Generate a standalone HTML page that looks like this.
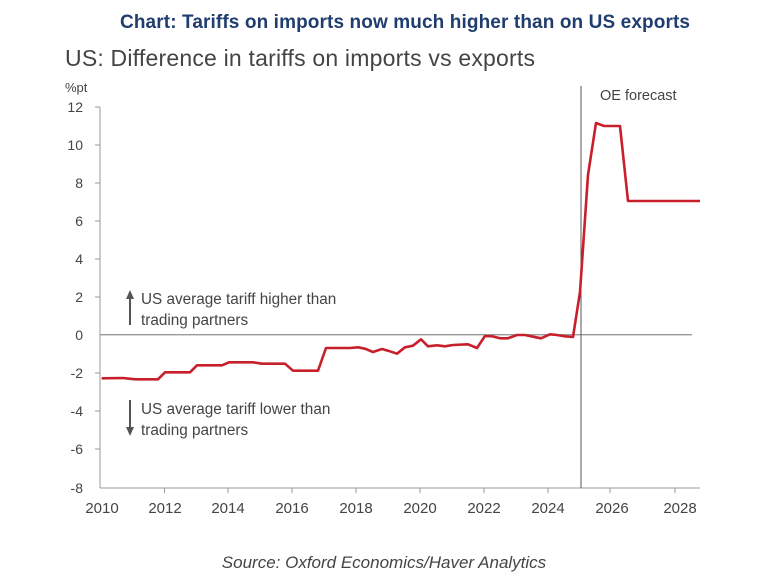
<!DOCTYPE html>
<html><head><meta charset="utf-8"><style>
body{margin:0;background:#fff;width:768px;height:583px;overflow:hidden;font-family:"Liberation Sans",sans-serif}
</style></head><body>
<svg width="768" height="583" xmlns="http://www.w3.org/2000/svg" font-family="Liberation Sans, sans-serif">
<text x="405" y="28" text-anchor="middle" font-size="19" font-weight="bold" fill="#1f3d6e" textLength="570">Chart: Tariffs on imports now much higher than on US exports</text>
<text x="65" y="66" font-size="23" fill="#444" textLength="470">US: Difference in tariffs on imports vs exports</text>
<text x="65" y="92" font-size="13" fill="#444">%pt</text>
<line x1="100" y1="107" x2="100" y2="488" stroke="#999" stroke-width="1"/>
<line x1="100" y1="488" x2="700" y2="488" stroke="#999" stroke-width="1"/>
<line x1="100" y1="334.7" x2="692" y2="334.7" stroke="#999" stroke-width="1.3"/>
<line x1="581" y1="86" x2="581" y2="488" stroke="#555" stroke-width="1"/>
<text x="600" y="100" font-size="14.5" fill="#444">OE forecast</text>
<g font-size="14" fill="#444" text-anchor="end">
<text x="83" y="112">12</text><text x="83" y="150">10</text><text x="83" y="188">8</text><text x="83" y="226">6</text><text x="83" y="264">4</text><text x="83" y="302">2</text><text x="83" y="340">0</text><text x="83" y="378">-2</text><text x="83" y="416">-4</text><text x="83" y="454">-6</text><text x="83" y="493">-8</text>
</g>
<g stroke="#999"><line x1="95" y1="107" x2="100" y2="107"/><line x1="95" y1="145" x2="100" y2="145"/><line x1="95" y1="183" x2="100" y2="183"/><line x1="95" y1="221" x2="100" y2="221"/><line x1="95" y1="259" x2="100" y2="259"/><line x1="95" y1="297" x2="100" y2="297"/><line x1="95" y1="373" x2="100" y2="373"/><line x1="95" y1="411" x2="100" y2="411"/><line x1="95" y1="449" x2="100" y2="449"/>
<line x1="164.5" y1="488" x2="164.5" y2="493"/><line x1="228" y1="488" x2="228" y2="493"/><line x1="292" y1="488" x2="292" y2="493"/><line x1="356" y1="488" x2="356" y2="493"/><line x1="420" y1="488" x2="420" y2="493"/><line x1="484" y1="488" x2="484" y2="493"/><line x1="548" y1="488" x2="548" y2="493"/><line x1="610" y1="488" x2="610" y2="493"/><line x1="675" y1="488" x2="675" y2="493"/></g>
<g font-size="15" fill="#444" text-anchor="middle">
<text x="102" y="513">2010</text><text x="165" y="513">2012</text><text x="228" y="513">2014</text><text x="292" y="513">2016</text><text x="356" y="513">2018</text><text x="420" y="513">2020</text><text x="484" y="513">2022</text><text x="548" y="513">2024</text><text x="612" y="513">2026</text><text x="680" y="513">2028</text>
</g>
<polyline fill="none" stroke="#c8202b" stroke-width="2.6" stroke-linejoin="round" points="101.7,378.3 123,378 135,379.3 158,379.3 165,372.3 190,372.3 197,365.3 222,365.3 229,362.3 253,362.3 262,363.7 285,363.7 293,370.7 318,370.7 326,348 350,348 358,347.3 365,348.7 373,352 382,349 388,350.7 397,353.7 405,347.3 413,345.7 421,339.3 428,346.3 437,345.3 445,346.3 453,345 468,344.3 477,348 485,336 492,336.3 500,338.3 508,338.3 517,335 525,335 533,336.7 541,338.3 550,334.3 557,335 565,336.3 573,337 580,292 588,175 596,123 604,126 620,126 628,201 700,201"/>
<g fill="#555" stroke="#555">
<line x1="130" y1="296" x2="130" y2="325" stroke-width="2"/><polygon points="126,299 134,299 130,290" stroke="none"/>
<line x1="130" y1="400" x2="130" y2="430" stroke-width="2"/><polygon points="126,427 134,427 130,436" stroke="none"/>
</g>
<g font-size="15.3" fill="#444">
<text x="141" y="304">US average tariff higher than</text><text x="141" y="325">trading partners</text>
<text x="141" y="414">US average tariff lower than</text><text x="141" y="435">trading partners</text>
</g>
<text x="384" y="568" text-anchor="middle" font-size="17" font-style="italic" fill="#444">Source: Oxford Economics/Haver Analytics</text>
</svg>
</body></html>
